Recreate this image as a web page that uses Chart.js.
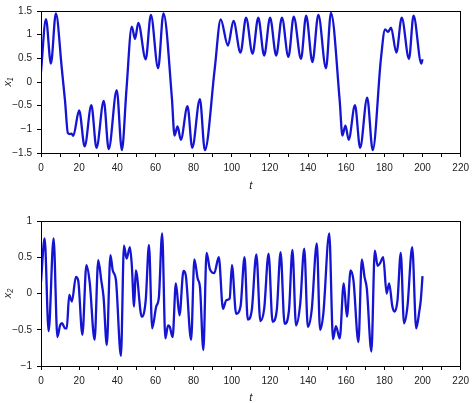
<!DOCTYPE html>
<html>
<head>
<meta charset="utf-8">
<script src="https://cdn.jsdelivr.net/npm/chart.js@4/dist/chart.umd.min.js"></script>
<style>
body { margin: 0; background: #fff; }
#wrap { position: relative; width: 474px; height: 403px; }
canvas { position: absolute; left: 0; }
#topChart { top: 0; }
#bottomChart { top: 200px; }
</style>
</head>
<body>
<div id="wrap">
  <canvas id="topChart" width="474" height="200"></canvas>
  <canvas id="bottomChart" width="474" height="203"></canvas>
</div>
<script>
// values
var t1 = [0, 2.6, 5.2, 7.8, 10.9, 12.6, 14.1, 15.2, 16.0, 16.9, 20.0, 22.9, 26.4, 29.1, 32.9, 35.5, 39.7, 42.4, 44.8,
    47.6, 49.3, 51.0, 54.9, 57.6, 61.4, 64.2, 68.6, 70.0, 71.6, 73.3, 76.8, 79.3, 83.3, 85.9, 91.1,
    94.2, 98.0, 100.9, 104.6, 107.5, 110.9, 113.9, 117.0, 120.1, 123.3, 126.3, 129.7, 132.5, 136.3,
    139.0, 142.3, 145.4, 149.4, 152.0, 156.6, 158.0, 159.6, 161.3, 164.6, 167.3, 171.0, 173.9, 178.2,
    180.4, 182.0, 183.5, 186.3, 189.1, 192.9, 195.3, 199.4, 200];
var x1 = [0.22, 1.33, 0.39, 1.45, 0.29, -0.40, -1.08, -1.10, -1.09, -1.14, -0.60, -1.36, -0.49, -1.39, -0.40, -1.42, -0.17, -1.44, -0.16,
    1.17, 0.91, 1.25, 0.48, 1.42, 0.29, 1.45, -0.33, -1.13, -0.94, -1.22, -0.51, -1.39, -0.36, -1.44, 0.29,
    1.32, 0.77, 1.29, 0.62, 1.36, 0.60, 1.36, 0.56, 1.36, 0.56, 1.36, 0.53, 1.38, 0.49,
    1.40, 0.42, 1.42, 0.29, 1.46, -0.40, -1.13, -0.92, -1.22, -0.49, -1.39, -0.33, -1.44, 0.49,
    1.11, 1.06, 1.15, 0.62, 1.36, 0.49, 1.40, 0.39, 0.48];

var t2 = [0, 1.9, 4.0, 6.6, 8.6, 10.0, 11.0, 12.6, 13.5, 14.8, 16.2, 18.3, 19.5, 21.7, 23.8, 25.5, 28.1,
    30.0, 31.6, 32.8, 34.5, 36.4, 37.6, 39.3, 41.9, 43.5, 44.9, 46.6, 47.6, 48.8, 49.7, 52.8, 54.9,
    56.6, 58.3, 60.4, 61.8, 63.5, 65.2, 66.6, 67.5, 69.0, 70.7, 72.6, 74.7, 75.9, 78.7, 80.4, 82.1,
    83.4, 85.1, 86.8, 88.5, 90.8, 93.2, 95.4, 97.2, 98.9, 100.1, 102.3, 104.6, 106.7, 108.4, 110.5,
    112.9, 115.0, 117.0, 119.3, 121.4, 123.6, 125.6, 127.7, 130.0, 131.8, 133.7, 135.9, 138.0, 139.9,
    141.9, 144.6, 146.3, 148.0, 151.1, 153.1, 154.6, 156.6, 158.7, 160.4, 162.3, 163.8, 166.4, 168.2,
    169.6, 170.8, 173.2, 175.0, 176.5, 177.8, 179.4, 181.2, 182.5, 184.2, 185.3, 186.9, 188.6, 190.3,
    192.1, 194.6, 196.7, 198.4, 199.1, 200];
var x2 = [0.16, 0.76, -0.52, 0.76, -0.60, -0.44, -0.41, -0.48, -0.48, -0.02, -0.11, 0.23, 0.18, -0.57, 0.39, 0.16, -0.64,
    0.46, 0.18, -0.05, -0.71, 0.53, 0.32, 0.18, -0.86, 0.66, 0.48, 0.64, 0.39, -0.18, 0.32, -0.32, -0.09,
    0.67, -0.48, -0.18, -0.05, 0.83, -0.62, -0.44, -0.46, -0.60, 0.14, -0.30, 0.31, 0.25, -0.64, 0.47, 0.21,
    0.07, -0.78, 0.56, 0.34, 0.28, 0.50, -0.21, -0.09, -0.07, 0.39, -0.28, -0.18, 0.50, -0.36, -0.23,
    0.54, -0.38, -0.21, 0.55, -0.39, -0.23, 0.57, -0.42, -0.23, 0.60, -0.44, -0.14, 0.62, -0.46,
    -0.23, 0.69, -0.50, -0.28, 0.83, -0.63, -0.45, -0.62, 0.14, -0.32, 0.32, 0.18, -0.67, 0.47,
    0.23, 0.07, -0.80, 0.59, 0.38, 0.42, 0.50, 0.00, 0.14, -0.18, -0.25, -0.09, 0.56, -0.41,
    -0.18, 0.64, -0.48, -0.23, -0.09, 0.24];

var tTicks = [0, 220, 10];        // min, max, step
var x1Ticks = [-1.5, 1.5, 0.5];
var x2Ticks = [-1, 1, 0.5];

var fontFamily = '"Liberation Sans", Arial, sans-serif';

var framePlugin = {
    id: 'frame',
    afterDraw: function (chart) {
        var a = chart.chartArea;
        var ctx = chart.ctx;
        var l = Math.round(a.left - 0.5) + 0.5;
        var r = Math.round(a.right - 0.5) + 0.5;
        var tp = Math.round(a.top - 0.5) + 0.5;
        var b = Math.round(a.bottom - 0.5) + 0.5;
        ctx.save();
        ctx.strokeStyle = '#000';
        ctx.lineWidth = 1;
        ctx.strokeRect(l, tp, r - l, b - tp);
        ctx.restore();
    }
};

function minus(v) {
    return String(v).replace('-', '\u2212');
}

function makeChart(id, t, x, yTicks, yTitle, padTop, xAxisHeight, tTitlePad) {
    var points = [];
    for (var i = 0; i < t.length; i++) {
        points.push({x: t[i], y: x[i]});
    }
    return new Chart(document.getElementById(id), {
        type: 'line',
        data: {
            datasets: [{
                data: points,
                borderColor: '#1414d2',
                borderWidth: 2.3,
                pointRadius: 0,
                fill: false,
                cubicInterpolationMode: 'monotone'
            }]
        },
        plugins: [framePlugin],
        options: {
            responsive: false,
            animation: false,
            layout: {padding: {top: padTop, right: 8, left: 0, bottom: 0}},
            plugins: {legend: {display: false}, tooltip: {enabled: false}},
            scales: {
                x: {
                    type: 'linear',
                    min: tTicks[0],
                    max: tTicks[1],
                    afterFit: function (scale) { scale.height = xAxisHeight; },
                    border: {display: true, color: '#000', width: 1},
                    grid: {drawOnChartArea: false, drawTicks: true, tickLength: 4, color: '#000'},
                    ticks: {
                        stepSize: tTicks[2],
                        autoSkip: false,
                        maxRotation: 0,
                        padding: 5,
                        color: '#222',
                        font: {family: fontFamily, size: 10},
                        callback: function (v) { return v % 20 === 0 ? minus(v) : ''; }
                    },
                    title: {
                        display: true,
                        text: 't',
                        color: '#222',
                        font: {family: fontFamily, size: 11, style: 'italic'},
                        padding: {top: 0, bottom: tTitlePad}
                    }
                },
                y: {
                    type: 'linear',
                    min: yTicks[0],
                    max: yTicks[1],
                    afterFit: function (scale) { scale.width = 41; },
                    border: {display: true, color: '#000', width: 1},
                    grid: {drawOnChartArea: false, drawTicks: true, tickLength: 4, color: '#000'},
                    ticks: {
                        stepSize: yTicks[2],
                        padding: 5,
                        color: '#222',
                        font: {family: fontFamily, size: 10},
                        callback: function (v) { return minus(v); }
                    },
                    title: {
                        display: true,
                        text: yTitle,
                        color: '#222',
                        font: {family: fontFamily, size: 11, style: 'italic'},
                        padding: {top: 1, bottom: 0}
                    }
                }
            }
        }
    });
}

makeChart('topChart', t1, x1, x1Ticks, 'x\u2081', 8, 47, 7);
makeChart('bottomChart', t2, x2, x2Ticks, 'x\u2082', 21, 37, -2);
</script>
</body>
</html>
